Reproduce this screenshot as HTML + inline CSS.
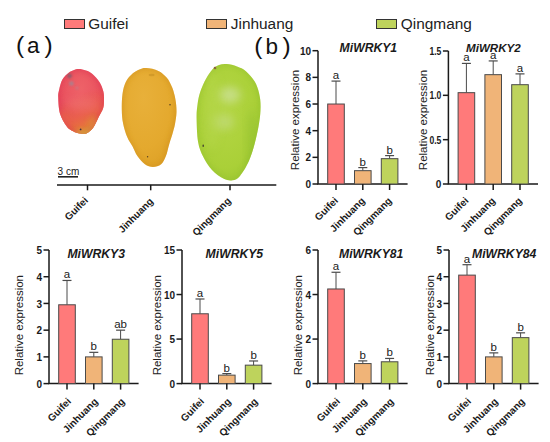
<!DOCTYPE html>
<html><head><meta charset="utf-8"><style>
html,body{margin:0;padding:0;background:#fff;}
body{width:550px;height:442px;overflow:hidden;}
svg{display:block;}
text{font-family:"Liberation Sans", sans-serif;fill:#1a1a1a;}
.tk{font-size:10px;font-weight:bold;}
.lt{font-size:11.5px;}
.xl{font-size:10px;font-weight:bold;}
.ti{font-size:12.2px;font-weight:bold;font-style:italic;}
.yl{font-size:11.5px;fill:#222;}
.lg{font-size:15.4px;fill:#222;}
.pl{font-size:24.5px;fill:#111;}
.sc{font-size:10px;fill:#222;}
.px{font-size:10px;font-weight:bold;}
</style></head><body>
<svg width="550" height="442" viewBox="0 0 550 442">

<rect x="64.5" y="19.5" width="20" height="9" fill="#FF7A7A" stroke="#333" stroke-width="1"/>
<text x="88.2" y="28.6" class="lg">Guifei</text>
<rect x="206.5" y="19.5" width="20" height="9" fill="#F0B478" stroke="#333" stroke-width="1"/>
<text x="230.8" y="28.6" class="lg">Jinhuang</text>
<rect x="376.5" y="19.5" width="20" height="9" fill="#BED35C" stroke="#333" stroke-width="1"/>
<text x="400.8" y="28.6" class="lg">Qingmang</text>
<text x="16" y="52.7" class="pl">(</text><text x="27" y="52.7" class="pl" style="font-size:22.5px">a</text><text x="44.6" y="52.7" class="pl">)</text>
<text x="254.2" y="54.2" class="pl">(</text><text x="265.5" y="54.2" class="pl" style="font-size:22.5px">b</text><text x="282.6" y="54.2" class="pl">)</text>


<defs>
 <radialGradient id="gr" cx="0.5" cy="0.3" r="0.8">
  <stop offset="0" stop-color="#EE6268"/>
  <stop offset="0.5" stop-color="#EA5460"/>
  <stop offset="0.85" stop-color="#E4485A"/>
  <stop offset="1" stop-color="#DC3E50"/>
 </radialGradient>
 <linearGradient id="gr2" x1="0.3" y1="0.0" x2="0.6" y2="1">
  <stop offset="0" stop-color="#E86040" stop-opacity="0"/>
  <stop offset="0.4" stop-color="#E86040" stop-opacity="0"/>
  <stop offset="0.7" stop-color="#EA6A40" stop-opacity="0.55"/>
  <stop offset="0.9" stop-color="#E67A36" stop-opacity="0.9"/>
  <stop offset="1" stop-color="#D8A038" stop-opacity="1"/>
 </linearGradient>
 <radialGradient id="gy" cx="0.4" cy="0.3" r="0.85">
  <stop offset="0" stop-color="#E8B03A"/>
  <stop offset="0.6" stop-color="#E4A92E"/>
  <stop offset="0.92" stop-color="#DDA026"/>
  <stop offset="1" stop-color="#D49622"/>
 </radialGradient>
 <radialGradient id="gg" cx="0.45" cy="0.4" r="0.75">
  <stop offset="0" stop-color="#B4D644"/>
  <stop offset="0.65" stop-color="#AAD038"/>
  <stop offset="1" stop-color="#98C430"/>
 </radialGradient>
 <filter id="bl" x="-50%" y="-50%" width="200%" height="200%"><feGaussianBlur stdDeviation="3"/></filter>
 <filter id="bl4" x="-50%" y="-50%" width="200%" height="200%"><feGaussianBlur stdDeviation="4"/></filter>
 <filter id="bl2" x="-50%" y="-50%" width="200%" height="200%"><feGaussianBlur stdDeviation="2"/></filter>
 <filter id="bl1" x="-50%" y="-50%" width="200%" height="200%"><feGaussianBlur stdDeviation="0.8"/></filter>
 <clipPath id="cr"><path d="M78.7 69.0 C80.8 69.0 83.7 69.7 86.0 70.5 C88.3 71.3 90.1 72.0 92.4 74.0 C94.7 76.0 97.8 79.3 99.6 82.2 C101.4 85.1 102.6 88.5 103.3 91.3 C104.0 94.1 104.0 96.2 104.0 99.0 C104.0 101.8 104.1 105.0 103.2 107.9 C102.3 110.9 100.4 113.5 98.8 116.7 C97.2 119.9 95.2 124.7 93.5 127.3 C91.8 129.9 90.1 131.1 88.5 132.2 C86.9 133.3 85.8 133.7 83.8 133.8 C81.8 133.9 79.0 133.5 76.7 132.8 C74.4 132.1 71.8 130.7 70.0 129.5 C68.2 128.3 67.8 128.2 66.1 125.5 C64.4 122.8 61.2 117.9 59.9 113.2 C58.6 108.5 58.3 101.2 58.2 97.3 C58.1 93.3 58.5 92.5 59.2 89.5 C59.9 86.5 60.8 82.3 62.4 79.5 C64.0 76.7 66.9 74.3 68.7 72.8 C70.5 71.2 71.8 70.8 73.5 70.2 C75.2 69.6 76.6 69.0 78.7 69.0 Z"/></clipPath>
 <clipPath id="cy"><path d="M146.2 68.1 C149.4 68.3 155.0 69.3 158.4 70.9 C161.8 72.5 164.3 74.9 166.6 77.6 C168.9 80.3 170.5 83.5 172.0 87.1 C173.5 90.7 174.7 95.1 175.4 99.3 C176.2 103.5 176.6 107.9 176.5 112.0 C176.4 116.1 175.6 120.7 175.0 124.0 C174.4 127.3 173.9 128.7 173.0 132.0 C172.1 135.3 170.5 139.9 169.3 143.9 C168.1 147.9 167.3 152.7 165.9 156.1 C164.5 159.5 163.2 162.5 161.1 164.3 C158.9 166.1 155.7 167.0 153.0 167.0 C150.3 167.0 147.5 166.1 144.9 164.3 C142.3 162.5 139.5 159.1 137.4 156.1 C135.3 153.1 134.3 149.8 132.6 146.6 C130.9 143.4 128.8 140.9 127.2 137.1 C125.6 133.3 124.0 128.1 123.1 123.6 C122.2 119.1 121.9 115.0 121.8 110.0 C121.7 105.0 121.8 98.6 122.5 93.9 C123.2 89.2 124.2 85.1 125.9 81.7 C127.6 78.3 130.3 75.6 132.6 73.6 C134.8 71.6 137.1 70.4 139.4 69.5 C141.7 68.6 143.0 67.9 146.2 68.1 Z"/></clipPath>
 <clipPath id="cg"><path d="M226.8 64.1 C229.8 64.3 233.8 65.3 237.0 66.5 C240.2 67.7 243.0 68.7 245.9 71.2 C248.8 73.7 252.5 77.8 254.7 81.5 C256.9 85.2 258.1 89.0 259.1 93.2 C260.1 97.4 260.6 101.5 260.6 106.5 C260.6 111.5 260.1 116.8 259.1 123.0 C258.1 129.2 256.4 137.1 254.7 143.5 C253.0 149.9 251.2 155.8 248.8 161.2 C246.4 166.6 242.7 172.7 240.0 175.9 C237.3 179.1 235.3 179.8 232.6 180.3 C229.9 180.8 227.2 180.5 223.8 178.8 C220.4 177.1 215.4 173.7 212.0 170.0 C208.6 166.3 205.5 161.5 203.2 156.8 C200.9 152.1 199.2 148.5 198.1 142.0 C197.0 135.5 196.7 124.3 196.6 118.0 C196.5 111.7 197.0 108.4 197.6 104.0 C198.2 99.6 198.9 96.0 200.3 91.8 C201.7 87.5 204.1 82.3 206.2 78.5 C208.3 74.7 210.7 71.2 212.8 69.0 C214.9 66.8 216.7 65.8 219.0 65.0 C221.3 64.2 223.8 63.8 226.8 64.1 Z"/></clipPath>
</defs>
<path d="M78.7 69.0 C80.8 69.0 83.7 69.7 86.0 70.5 C88.3 71.3 90.1 72.0 92.4 74.0 C94.7 76.0 97.8 79.3 99.6 82.2 C101.4 85.1 102.6 88.5 103.3 91.3 C104.0 94.1 104.0 96.2 104.0 99.0 C104.0 101.8 104.1 105.0 103.2 107.9 C102.3 110.9 100.4 113.5 98.8 116.7 C97.2 119.9 95.2 124.7 93.5 127.3 C91.8 129.9 90.1 131.1 88.5 132.2 C86.9 133.3 85.8 133.7 83.8 133.8 C81.8 133.9 79.0 133.5 76.7 132.8 C74.4 132.1 71.8 130.7 70.0 129.5 C68.2 128.3 67.8 128.2 66.1 125.5 C64.4 122.8 61.2 117.9 59.9 113.2 C58.6 108.5 58.3 101.2 58.2 97.3 C58.1 93.3 58.5 92.5 59.2 89.5 C59.9 86.5 60.8 82.3 62.4 79.5 C64.0 76.7 66.9 74.3 68.7 72.8 C70.5 71.2 71.8 70.8 73.5 70.2 C75.2 69.6 76.6 69.0 78.7 69.0 Z" fill="url(#gr)"/>
<path d="M78.7 69.0 C80.8 69.0 83.7 69.7 86.0 70.5 C88.3 71.3 90.1 72.0 92.4 74.0 C94.7 76.0 97.8 79.3 99.6 82.2 C101.4 85.1 102.6 88.5 103.3 91.3 C104.0 94.1 104.0 96.2 104.0 99.0 C104.0 101.8 104.1 105.0 103.2 107.9 C102.3 110.9 100.4 113.5 98.8 116.7 C97.2 119.9 95.2 124.7 93.5 127.3 C91.8 129.9 90.1 131.1 88.5 132.2 C86.9 133.3 85.8 133.7 83.8 133.8 C81.8 133.9 79.0 133.5 76.7 132.8 C74.4 132.1 71.8 130.7 70.0 129.5 C68.2 128.3 67.8 128.2 66.1 125.5 C64.4 122.8 61.2 117.9 59.9 113.2 C58.6 108.5 58.3 101.2 58.2 97.3 C58.1 93.3 58.5 92.5 59.2 89.5 C59.9 86.5 60.8 82.3 62.4 79.5 C64.0 76.7 66.9 74.3 68.7 72.8 C70.5 71.2 71.8 70.8 73.5 70.2 C75.2 69.6 76.6 69.0 78.7 69.0 Z" fill="url(#gr2)"/>
<g clip-path="url(#cr)">
 <path d="M78.7 69.0 C80.8 69.0 83.7 69.7 86.0 70.5 C88.3 71.3 90.1 72.0 92.4 74.0 C94.7 76.0 97.8 79.3 99.6 82.2 C101.4 85.1 102.6 88.5 103.3 91.3 C104.0 94.1 104.0 96.2 104.0 99.0 C104.0 101.8 104.1 105.0 103.2 107.9 C102.3 110.9 100.4 113.5 98.8 116.7 C97.2 119.9 95.2 124.7 93.5 127.3 C91.8 129.9 90.1 131.1 88.5 132.2 C86.9 133.3 85.8 133.7 83.8 133.8 C81.8 133.9 79.0 133.5 76.7 132.8 C74.4 132.1 71.8 130.7 70.0 129.5 C68.2 128.3 67.8 128.2 66.1 125.5 C64.4 122.8 61.2 117.9 59.9 113.2 C58.6 108.5 58.3 101.2 58.2 97.3 C58.1 93.3 58.5 92.5 59.2 89.5 C59.9 86.5 60.8 82.3 62.4 79.5 C64.0 76.7 66.9 74.3 68.7 72.8 C70.5 71.2 71.8 70.8 73.5 70.2 C75.2 69.6 76.6 69.0 78.7 69.0 Z" fill="none" stroke="#E03A55" stroke-width="5" filter="url(#bl2)" opacity="0.55"/>
 <ellipse cx="82" cy="104" rx="16" ry="6" fill="#F27A78" filter="url(#bl4)" opacity="0.45"/>
 <circle cx="69.6" cy="76" r="2.2" fill="#7A6070" filter="url(#bl1)" opacity="0.85"/>
 <circle cx="71.5" cy="83.5" r="2.2" fill="#9A8A98" filter="url(#bl1)" opacity="0.8"/>
 <circle cx="77" cy="88" r="1.5" fill="#A88A98" filter="url(#bl1)" opacity="0.6"/>
 <ellipse cx="93" cy="124" rx="5" ry="6" fill="#D89A38" filter="url(#bl)" opacity="0.6"/>
 <ellipse cx="84" cy="134" rx="10" ry="4" fill="#D0A838" filter="url(#bl)" opacity="0.85"/>
 <ellipse cx="64" cy="118" rx="5" ry="8" fill="#E86A48" filter="url(#bl)" opacity="0.5"/>
 <circle cx="80.6" cy="129.4" r="0.9" fill="#403040"/>
</g>
<path d="M146.2 68.1 C149.4 68.3 155.0 69.3 158.4 70.9 C161.8 72.5 164.3 74.9 166.6 77.6 C168.9 80.3 170.5 83.5 172.0 87.1 C173.5 90.7 174.7 95.1 175.4 99.3 C176.2 103.5 176.6 107.9 176.5 112.0 C176.4 116.1 175.6 120.7 175.0 124.0 C174.4 127.3 173.9 128.7 173.0 132.0 C172.1 135.3 170.5 139.9 169.3 143.9 C168.1 147.9 167.3 152.7 165.9 156.1 C164.5 159.5 163.2 162.5 161.1 164.3 C158.9 166.1 155.7 167.0 153.0 167.0 C150.3 167.0 147.5 166.1 144.9 164.3 C142.3 162.5 139.5 159.1 137.4 156.1 C135.3 153.1 134.3 149.8 132.6 146.6 C130.9 143.4 128.8 140.9 127.2 137.1 C125.6 133.3 124.0 128.1 123.1 123.6 C122.2 119.1 121.9 115.0 121.8 110.0 C121.7 105.0 121.8 98.6 122.5 93.9 C123.2 89.2 124.2 85.1 125.9 81.7 C127.6 78.3 130.3 75.6 132.6 73.6 C134.8 71.6 137.1 70.4 139.4 69.5 C141.7 68.6 143.0 67.9 146.2 68.1 Z" fill="url(#gy)"/>
<g clip-path="url(#cy)"><path d="M146.2 68.1 C149.4 68.3 155.0 69.3 158.4 70.9 C161.8 72.5 164.3 74.9 166.6 77.6 C168.9 80.3 170.5 83.5 172.0 87.1 C173.5 90.7 174.7 95.1 175.4 99.3 C176.2 103.5 176.6 107.9 176.5 112.0 C176.4 116.1 175.6 120.7 175.0 124.0 C174.4 127.3 173.9 128.7 173.0 132.0 C172.1 135.3 170.5 139.9 169.3 143.9 C168.1 147.9 167.3 152.7 165.9 156.1 C164.5 159.5 163.2 162.5 161.1 164.3 C158.9 166.1 155.7 167.0 153.0 167.0 C150.3 167.0 147.5 166.1 144.9 164.3 C142.3 162.5 139.5 159.1 137.4 156.1 C135.3 153.1 134.3 149.8 132.6 146.6 C130.9 143.4 128.8 140.9 127.2 137.1 C125.6 133.3 124.0 128.1 123.1 123.6 C122.2 119.1 121.9 115.0 121.8 110.0 C121.7 105.0 121.8 98.6 122.5 93.9 C123.2 89.2 124.2 85.1 125.9 81.7 C127.6 78.3 130.3 75.6 132.6 73.6 C134.8 71.6 137.1 70.4 139.4 69.5 C141.7 68.6 143.0 67.9 146.2 68.1 Z" fill="none" stroke="#D0901C" stroke-width="4" filter="url(#bl2)" opacity="0.5"/></g>
<circle cx="170" cy="104.8" r="0.8" fill="#5A4020"/>
<circle cx="147.6" cy="156.8" r="0.7" fill="#5A4020"/>
<ellipse cx="151.6" cy="75" rx="3" ry="1.2" fill="#C08A20" opacity="0.5"/>
<path d="M226.8 64.1 C229.8 64.3 233.8 65.3 237.0 66.5 C240.2 67.7 243.0 68.7 245.9 71.2 C248.8 73.7 252.5 77.8 254.7 81.5 C256.9 85.2 258.1 89.0 259.1 93.2 C260.1 97.4 260.6 101.5 260.6 106.5 C260.6 111.5 260.1 116.8 259.1 123.0 C258.1 129.2 256.4 137.1 254.7 143.5 C253.0 149.9 251.2 155.8 248.8 161.2 C246.4 166.6 242.7 172.7 240.0 175.9 C237.3 179.1 235.3 179.8 232.6 180.3 C229.9 180.8 227.2 180.5 223.8 178.8 C220.4 177.1 215.4 173.7 212.0 170.0 C208.6 166.3 205.5 161.5 203.2 156.8 C200.9 152.1 199.2 148.5 198.1 142.0 C197.0 135.5 196.7 124.3 196.6 118.0 C196.5 111.7 197.0 108.4 197.6 104.0 C198.2 99.6 198.9 96.0 200.3 91.8 C201.7 87.5 204.1 82.3 206.2 78.5 C208.3 74.7 210.7 71.2 212.8 69.0 C214.9 66.8 216.7 65.8 219.0 65.0 C221.3 64.2 223.8 63.8 226.8 64.1 Z" fill="url(#gg)"/>
<g clip-path="url(#cg)">
 <path d="M226.8 64.1 C229.8 64.3 233.8 65.3 237.0 66.5 C240.2 67.7 243.0 68.7 245.9 71.2 C248.8 73.7 252.5 77.8 254.7 81.5 C256.9 85.2 258.1 89.0 259.1 93.2 C260.1 97.4 260.6 101.5 260.6 106.5 C260.6 111.5 260.1 116.8 259.1 123.0 C258.1 129.2 256.4 137.1 254.7 143.5 C253.0 149.9 251.2 155.8 248.8 161.2 C246.4 166.6 242.7 172.7 240.0 175.9 C237.3 179.1 235.3 179.8 232.6 180.3 C229.9 180.8 227.2 180.5 223.8 178.8 C220.4 177.1 215.4 173.7 212.0 170.0 C208.6 166.3 205.5 161.5 203.2 156.8 C200.9 152.1 199.2 148.5 198.1 142.0 C197.0 135.5 196.7 124.3 196.6 118.0 C196.5 111.7 197.0 108.4 197.6 104.0 C198.2 99.6 198.9 96.0 200.3 91.8 C201.7 87.5 204.1 82.3 206.2 78.5 C208.3 74.7 210.7 71.2 212.8 69.0 C214.9 66.8 216.7 65.8 219.0 65.0 C221.3 64.2 223.8 63.8 226.8 64.1 Z" fill="none" stroke="#90BE2E" stroke-width="4" filter="url(#bl2)" opacity="0.4"/>
 <ellipse cx="229.5" cy="95" rx="11" ry="8" fill="#CFE2A0" filter="url(#bl4)" opacity="0.7"/>
 <ellipse cx="223" cy="122" rx="11" ry="8" fill="#C8DE90" filter="url(#bl4)" opacity="0.55"/>
 <ellipse cx="252" cy="140" rx="5" ry="30" fill="#8EBE2E" filter="url(#bl4)" opacity="0.5"/>
 <ellipse cx="212" cy="110" rx="8" ry="40" fill="#B8D850" filter="url(#bl4)" opacity="0.45"/>
</g>
<circle cx="215" cy="68" r="1.3" fill="#8A6A3A"/>
<ellipse cx="203.2" cy="145.7" rx="0.8" ry="1.2" fill="#4A4A30"/>
<text x="57.6" y="174.6" class="sc">3 cm</text>
<line x1="58" y1="176.8" x2="78" y2="176.8" stroke="#222" stroke-width="1.6"/>
<path d="M57 184.9 H276.3" stroke="#1a1a1a" stroke-width="1.5"/>
<line x1="87.5" y1="184.9" x2="87.5" y2="190.3" stroke="#1a1a1a" stroke-width="1.5"/>
<line x1="150.7" y1="184.9" x2="150.7" y2="190.3" stroke="#1a1a1a" stroke-width="1.5"/>
<line x1="230" y1="184.9" x2="230" y2="190.3" stroke="#1a1a1a" stroke-width="1.5"/>
<text transform="translate(88.7,201) rotate(-45)" text-anchor="end" class="px">Guifei</text>
<text transform="translate(153.9,202) rotate(-45)" text-anchor="end" class="px">Jinhuang</text>
<text transform="translate(231.5,201.5) rotate(-45)" text-anchor="end" class="px">Qingmang</text>

<path d="M318 50.7 V184 H407.6" fill="none" stroke="#1a1a1a" stroke-width="1.5"/>
<line x1="312.5" y1="184.00" x2="318" y2="184.00" stroke="#1a1a1a" stroke-width="1.5"/>
<text x="311" y="188.10" text-anchor="end" class="tk">0</text>
<line x1="312.5" y1="157.34" x2="318" y2="157.34" stroke="#1a1a1a" stroke-width="1.5"/>
<text x="311" y="161.44" text-anchor="end" class="tk">2</text>
<line x1="312.5" y1="130.68" x2="318" y2="130.68" stroke="#1a1a1a" stroke-width="1.5"/>
<text x="311" y="134.78" text-anchor="end" class="tk">4</text>
<line x1="312.5" y1="104.02" x2="318" y2="104.02" stroke="#1a1a1a" stroke-width="1.5"/>
<text x="311" y="108.12" text-anchor="end" class="tk">6</text>
<line x1="312.5" y1="77.36" x2="318" y2="77.36" stroke="#1a1a1a" stroke-width="1.5"/>
<text x="311" y="81.46" text-anchor="end" class="tk">8</text>
<line x1="312.5" y1="50.70" x2="318" y2="50.70" stroke="#1a1a1a" stroke-width="1.5"/>
<text x="311" y="54.80" text-anchor="end" class="tk">10</text>
<line x1="336.00" y1="81.09" x2="336.00" y2="104.02" stroke="#4a4a4a" stroke-width="1"/>
<line x1="331.50" y1="81.09" x2="340.50" y2="81.09" stroke="#4a4a4a" stroke-width="1.2"/>
<rect x="327.70" y="104.02" width="16.6" height="79.98" fill="#FF7A7A" stroke="#4a4a4a" stroke-width="1"/>
<line x1="336.00" y1="184" x2="336.00" y2="190" stroke="#1a1a1a" stroke-width="1.5"/>
<text x="336.00" y="79.09" text-anchor="middle" class="lt">a</text>
<text transform="translate(338.70,201.30) rotate(-45)" text-anchor="end" class="xl">Guifei</text>
<line x1="362.80" y1="167.60" x2="362.80" y2="170.67" stroke="#4a4a4a" stroke-width="1"/>
<line x1="358.30" y1="167.60" x2="367.30" y2="167.60" stroke="#4a4a4a" stroke-width="1.2"/>
<rect x="354.50" y="170.67" width="16.6" height="13.33" fill="#F0B478" stroke="#4a4a4a" stroke-width="1"/>
<line x1="362.80" y1="184" x2="362.80" y2="190" stroke="#1a1a1a" stroke-width="1.5"/>
<text x="362.80" y="165.60" text-anchor="middle" class="lt">b</text>
<text transform="translate(365.50,201.30) rotate(-45)" text-anchor="end" class="xl">Jinhuang</text>
<line x1="389.60" y1="155.61" x2="389.60" y2="158.67" stroke="#4a4a4a" stroke-width="1"/>
<line x1="385.10" y1="155.61" x2="394.10" y2="155.61" stroke="#4a4a4a" stroke-width="1.2"/>
<rect x="381.30" y="158.67" width="16.6" height="25.33" fill="#BED35C" stroke="#4a4a4a" stroke-width="1"/>
<line x1="389.60" y1="184" x2="389.60" y2="190" stroke="#1a1a1a" stroke-width="1.5"/>
<text x="389.60" y="153.61" text-anchor="middle" class="lt">b</text>
<text transform="translate(392.30,201.30) rotate(-45)" text-anchor="end" class="xl">Qingmang</text>
<text x="339.6" y="52.4" class="ti">MiWRKY1</text>
<text transform="translate(299.2,120) rotate(-90)" text-anchor="middle" class="yl">Relative expression</text>
<path d="M448.4 51 V184 H538.0" fill="none" stroke="#1a1a1a" stroke-width="1.5"/>
<line x1="442.9" y1="184.00" x2="448.4" y2="184.00" stroke="#1a1a1a" stroke-width="1.5"/>
<text x="441.4" y="188.10" text-anchor="end" class="tk">0</text>
<line x1="442.9" y1="139.67" x2="448.4" y2="139.67" stroke="#1a1a1a" stroke-width="1.5"/>
<text transform="translate(441.40,143.77) scale(0.86,1)" text-anchor="end" class="tk">0.5</text>
<line x1="442.9" y1="95.33" x2="448.4" y2="95.33" stroke="#1a1a1a" stroke-width="1.5"/>
<text transform="translate(441.40,99.43) scale(0.86,1)" text-anchor="end" class="tk">1.0</text>
<line x1="442.9" y1="51.00" x2="448.4" y2="51.00" stroke="#1a1a1a" stroke-width="1.5"/>
<text transform="translate(441.40,55.10) scale(0.86,1)" text-anchor="end" class="tk">1.5</text>
<line x1="466.40" y1="63.41" x2="466.40" y2="92.67" stroke="#4a4a4a" stroke-width="1"/>
<line x1="461.90" y1="63.41" x2="470.90" y2="63.41" stroke="#4a4a4a" stroke-width="1.2"/>
<rect x="458.10" y="92.67" width="16.6" height="91.33" fill="#FF7A7A" stroke="#4a4a4a" stroke-width="1"/>
<line x1="466.40" y1="184" x2="466.40" y2="190" stroke="#1a1a1a" stroke-width="1.5"/>
<text x="466.40" y="61.41" text-anchor="middle" class="lt">a</text>
<text transform="translate(469.10,201.30) rotate(-45)" text-anchor="end" class="xl">Guifei</text>
<line x1="493.20" y1="60.93" x2="493.20" y2="74.67" stroke="#4a4a4a" stroke-width="1"/>
<line x1="488.70" y1="60.93" x2="497.70" y2="60.93" stroke="#4a4a4a" stroke-width="1.2"/>
<rect x="484.90" y="74.67" width="16.6" height="109.33" fill="#F0B478" stroke="#4a4a4a" stroke-width="1"/>
<line x1="493.20" y1="184" x2="493.20" y2="190" stroke="#1a1a1a" stroke-width="1.5"/>
<text x="493.20" y="58.93" text-anchor="middle" class="lt">a</text>
<text transform="translate(495.90,201.30) rotate(-45)" text-anchor="end" class="xl">Jinhuang</text>
<line x1="520.00" y1="73.88" x2="520.00" y2="84.69" stroke="#4a4a4a" stroke-width="1"/>
<line x1="515.50" y1="73.88" x2="524.50" y2="73.88" stroke="#4a4a4a" stroke-width="1.2"/>
<rect x="511.70" y="84.69" width="16.6" height="99.31" fill="#BED35C" stroke="#4a4a4a" stroke-width="1"/>
<line x1="520.00" y1="184" x2="520.00" y2="190" stroke="#1a1a1a" stroke-width="1.5"/>
<text x="520.00" y="71.88" text-anchor="middle" class="lt">a</text>
<text transform="translate(522.70,201.30) rotate(-45)" text-anchor="end" class="xl">Qingmang</text>
<text x="466" y="52.4" class="ti" style="font-size:11.6px">MiWRKY2</text>
<text transform="translate(426.8,120) rotate(-90)" text-anchor="middle" class="yl">Relative expression</text>
<path d="M49 250 V383.6 H138.6" fill="none" stroke="#1a1a1a" stroke-width="1.5"/>
<line x1="43.5" y1="383.60" x2="49" y2="383.60" stroke="#1a1a1a" stroke-width="1.5"/>
<text x="42" y="387.70" text-anchor="end" class="tk">0</text>
<line x1="43.5" y1="356.88" x2="49" y2="356.88" stroke="#1a1a1a" stroke-width="1.5"/>
<text x="42" y="360.98" text-anchor="end" class="tk">1</text>
<line x1="43.5" y1="330.16" x2="49" y2="330.16" stroke="#1a1a1a" stroke-width="1.5"/>
<text x="42" y="334.26" text-anchor="end" class="tk">2</text>
<line x1="43.5" y1="303.44" x2="49" y2="303.44" stroke="#1a1a1a" stroke-width="1.5"/>
<text x="42" y="307.54" text-anchor="end" class="tk">3</text>
<line x1="43.5" y1="276.72" x2="49" y2="276.72" stroke="#1a1a1a" stroke-width="1.5"/>
<text x="42" y="280.82" text-anchor="end" class="tk">4</text>
<line x1="43.5" y1="250.00" x2="49" y2="250.00" stroke="#1a1a1a" stroke-width="1.5"/>
<text x="42" y="254.10" text-anchor="end" class="tk">5</text>
<line x1="67.00" y1="280.46" x2="67.00" y2="304.78" stroke="#4a4a4a" stroke-width="1"/>
<line x1="62.50" y1="280.46" x2="71.50" y2="280.46" stroke="#4a4a4a" stroke-width="1.2"/>
<rect x="58.70" y="304.78" width="16.6" height="78.82" fill="#FF7A7A" stroke="#4a4a4a" stroke-width="1"/>
<line x1="67.00" y1="383.6" x2="67.00" y2="389.6" stroke="#1a1a1a" stroke-width="1.5"/>
<text x="67.00" y="278.46" text-anchor="middle" class="lt">a</text>
<text transform="translate(71.70,402.10) rotate(-45)" text-anchor="end" class="xl">Guifei</text>
<line x1="93.80" y1="352.34" x2="93.80" y2="356.88" stroke="#4a4a4a" stroke-width="1"/>
<line x1="89.30" y1="352.34" x2="98.30" y2="352.34" stroke="#4a4a4a" stroke-width="1.2"/>
<rect x="85.50" y="356.88" width="16.6" height="26.72" fill="#F0B478" stroke="#4a4a4a" stroke-width="1"/>
<line x1="93.80" y1="383.6" x2="93.80" y2="389.6" stroke="#1a1a1a" stroke-width="1.5"/>
<text x="93.80" y="350.34" text-anchor="middle" class="lt">b</text>
<text transform="translate(98.50,402.10) rotate(-45)" text-anchor="end" class="xl">Jinhuang</text>
<line x1="120.60" y1="330.16" x2="120.60" y2="339.24" stroke="#4a4a4a" stroke-width="1"/>
<line x1="116.10" y1="330.16" x2="125.10" y2="330.16" stroke="#4a4a4a" stroke-width="1.2"/>
<rect x="112.30" y="339.24" width="16.6" height="44.36" fill="#BED35C" stroke="#4a4a4a" stroke-width="1"/>
<line x1="120.60" y1="383.6" x2="120.60" y2="389.6" stroke="#1a1a1a" stroke-width="1.5"/>
<text x="120.60" y="328.16" text-anchor="middle" class="lt">ab</text>
<text transform="translate(125.30,402.10) rotate(-45)" text-anchor="end" class="xl">Qingmang</text>
<text x="67.4" y="258" class="ti">MiWRKY3</text>
<text transform="translate(23.2,325.2) rotate(-90)" text-anchor="middle" class="yl">Relative expression</text>
<path d="M182 250 V383.6 H271.6" fill="none" stroke="#1a1a1a" stroke-width="1.5"/>
<line x1="176.5" y1="383.60" x2="182" y2="383.60" stroke="#1a1a1a" stroke-width="1.5"/>
<text x="175" y="387.70" text-anchor="end" class="tk">0</text>
<line x1="176.5" y1="339.07" x2="182" y2="339.07" stroke="#1a1a1a" stroke-width="1.5"/>
<text x="175" y="343.17" text-anchor="end" class="tk">5</text>
<line x1="176.5" y1="294.53" x2="182" y2="294.53" stroke="#1a1a1a" stroke-width="1.5"/>
<text x="175" y="298.63" text-anchor="end" class="tk">10</text>
<line x1="176.5" y1="250.00" x2="182" y2="250.00" stroke="#1a1a1a" stroke-width="1.5"/>
<text x="175" y="254.10" text-anchor="end" class="tk">15</text>
<line x1="200.00" y1="298.99" x2="200.00" y2="313.77" stroke="#4a4a4a" stroke-width="1"/>
<line x1="195.50" y1="298.99" x2="204.50" y2="298.99" stroke="#4a4a4a" stroke-width="1.2"/>
<rect x="191.70" y="313.77" width="16.6" height="69.83" fill="#FF7A7A" stroke="#4a4a4a" stroke-width="1"/>
<line x1="200.00" y1="383.6" x2="200.00" y2="389.6" stroke="#1a1a1a" stroke-width="1.5"/>
<text x="200.00" y="296.99" text-anchor="middle" class="lt">a</text>
<text transform="translate(204.70,402.10) rotate(-45)" text-anchor="end" class="xl">Guifei</text>
<line x1="226.80" y1="373.62" x2="226.80" y2="375.14" stroke="#4a4a4a" stroke-width="1"/>
<line x1="222.30" y1="373.62" x2="231.30" y2="373.62" stroke="#4a4a4a" stroke-width="1.2"/>
<rect x="218.50" y="375.14" width="16.6" height="8.46" fill="#F0B478" stroke="#4a4a4a" stroke-width="1"/>
<line x1="226.80" y1="383.6" x2="226.80" y2="389.6" stroke="#1a1a1a" stroke-width="1.5"/>
<text x="226.80" y="371.62" text-anchor="middle" class="lt">b</text>
<text transform="translate(231.50,402.10) rotate(-45)" text-anchor="end" class="xl">Jinhuang</text>
<line x1="253.60" y1="360.98" x2="253.60" y2="365.16" stroke="#4a4a4a" stroke-width="1"/>
<line x1="249.10" y1="360.98" x2="258.10" y2="360.98" stroke="#4a4a4a" stroke-width="1.2"/>
<rect x="245.30" y="365.16" width="16.6" height="18.44" fill="#BED35C" stroke="#4a4a4a" stroke-width="1"/>
<line x1="253.60" y1="383.6" x2="253.60" y2="389.6" stroke="#1a1a1a" stroke-width="1.5"/>
<text x="253.60" y="358.98" text-anchor="middle" class="lt">b</text>
<text transform="translate(258.30,402.10) rotate(-45)" text-anchor="end" class="xl">Qingmang</text>
<text x="205.6" y="258" class="ti">MiWRKY5</text>
<text transform="translate(160.6,325.2) rotate(-90)" text-anchor="middle" class="yl">Relative expression</text>
<path d="M318 250 V383.6 H407.6" fill="none" stroke="#1a1a1a" stroke-width="1.5"/>
<line x1="312.5" y1="383.60" x2="318" y2="383.60" stroke="#1a1a1a" stroke-width="1.5"/>
<text x="311" y="387.70" text-anchor="end" class="tk">0</text>
<line x1="312.5" y1="339.07" x2="318" y2="339.07" stroke="#1a1a1a" stroke-width="1.5"/>
<text x="311" y="343.17" text-anchor="end" class="tk">2</text>
<line x1="312.5" y1="294.53" x2="318" y2="294.53" stroke="#1a1a1a" stroke-width="1.5"/>
<text x="311" y="298.63" text-anchor="end" class="tk">4</text>
<line x1="312.5" y1="250.00" x2="318" y2="250.00" stroke="#1a1a1a" stroke-width="1.5"/>
<text x="311" y="254.10" text-anchor="end" class="tk">6</text>
<line x1="336.00" y1="272.27" x2="336.00" y2="288.97" stroke="#4a4a4a" stroke-width="1"/>
<line x1="331.50" y1="272.27" x2="340.50" y2="272.27" stroke="#4a4a4a" stroke-width="1.2"/>
<rect x="327.70" y="288.97" width="16.6" height="94.63" fill="#FF7A7A" stroke="#4a4a4a" stroke-width="1"/>
<line x1="336.00" y1="383.6" x2="336.00" y2="389.6" stroke="#1a1a1a" stroke-width="1.5"/>
<text x="336.00" y="270.27" text-anchor="middle" class="lt">a</text>
<text transform="translate(340.70,402.10) rotate(-45)" text-anchor="end" class="xl">Guifei</text>
<line x1="362.80" y1="360.89" x2="362.80" y2="363.56" stroke="#4a4a4a" stroke-width="1"/>
<line x1="358.30" y1="360.89" x2="367.30" y2="360.89" stroke="#4a4a4a" stroke-width="1.2"/>
<rect x="354.50" y="363.56" width="16.6" height="20.04" fill="#F0B478" stroke="#4a4a4a" stroke-width="1"/>
<line x1="362.80" y1="383.6" x2="362.80" y2="389.6" stroke="#1a1a1a" stroke-width="1.5"/>
<text x="362.80" y="358.89" text-anchor="middle" class="lt">b</text>
<text transform="translate(367.50,402.10) rotate(-45)" text-anchor="end" class="xl">Jinhuang</text>
<line x1="389.60" y1="358.44" x2="389.60" y2="361.78" stroke="#4a4a4a" stroke-width="1"/>
<line x1="385.10" y1="358.44" x2="394.10" y2="358.44" stroke="#4a4a4a" stroke-width="1.2"/>
<rect x="381.30" y="361.78" width="16.6" height="21.82" fill="#BED35C" stroke="#4a4a4a" stroke-width="1"/>
<line x1="389.60" y1="383.6" x2="389.60" y2="389.6" stroke="#1a1a1a" stroke-width="1.5"/>
<text x="389.60" y="356.44" text-anchor="middle" class="lt">b</text>
<text transform="translate(394.30,402.10) rotate(-45)" text-anchor="end" class="xl">Qingmang</text>
<text x="339" y="258" class="ti">MiWRKY81</text>
<text transform="translate(301.5,325.2) rotate(-90)" text-anchor="middle" class="yl">Relative expression</text>
<path d="M449 250 V383.6 H538.6" fill="none" stroke="#1a1a1a" stroke-width="1.5"/>
<line x1="443.5" y1="383.60" x2="449" y2="383.60" stroke="#1a1a1a" stroke-width="1.5"/>
<text x="442" y="387.70" text-anchor="end" class="tk">0</text>
<line x1="443.5" y1="356.88" x2="449" y2="356.88" stroke="#1a1a1a" stroke-width="1.5"/>
<text x="442" y="360.98" text-anchor="end" class="tk">1</text>
<line x1="443.5" y1="330.16" x2="449" y2="330.16" stroke="#1a1a1a" stroke-width="1.5"/>
<text x="442" y="334.26" text-anchor="end" class="tk">2</text>
<line x1="443.5" y1="303.44" x2="449" y2="303.44" stroke="#1a1a1a" stroke-width="1.5"/>
<text x="442" y="307.54" text-anchor="end" class="tk">3</text>
<line x1="443.5" y1="276.72" x2="449" y2="276.72" stroke="#1a1a1a" stroke-width="1.5"/>
<text x="442" y="280.82" text-anchor="end" class="tk">4</text>
<line x1="443.5" y1="250.00" x2="449" y2="250.00" stroke="#1a1a1a" stroke-width="1.5"/>
<text x="442" y="254.10" text-anchor="end" class="tk">5</text>
<line x1="467.00" y1="264.70" x2="467.00" y2="275.12" stroke="#4a4a4a" stroke-width="1"/>
<line x1="462.50" y1="264.70" x2="471.50" y2="264.70" stroke="#4a4a4a" stroke-width="1.2"/>
<rect x="458.70" y="275.12" width="16.6" height="108.48" fill="#FF7A7A" stroke="#4a4a4a" stroke-width="1"/>
<line x1="467.00" y1="383.6" x2="467.00" y2="389.6" stroke="#1a1a1a" stroke-width="1.5"/>
<text x="467.00" y="262.70" text-anchor="middle" class="lt">a</text>
<text transform="translate(471.70,402.10) rotate(-45)" text-anchor="end" class="xl">Guifei</text>
<line x1="493.80" y1="352.87" x2="493.80" y2="356.88" stroke="#4a4a4a" stroke-width="1"/>
<line x1="489.30" y1="352.87" x2="498.30" y2="352.87" stroke="#4a4a4a" stroke-width="1.2"/>
<rect x="485.50" y="356.88" width="16.6" height="26.72" fill="#F0B478" stroke="#4a4a4a" stroke-width="1"/>
<line x1="493.80" y1="383.6" x2="493.80" y2="389.6" stroke="#1a1a1a" stroke-width="1.5"/>
<text x="493.80" y="350.87" text-anchor="middle" class="lt">b</text>
<text transform="translate(498.50,402.10) rotate(-45)" text-anchor="end" class="xl">Jinhuang</text>
<line x1="520.60" y1="332.83" x2="520.60" y2="337.64" stroke="#4a4a4a" stroke-width="1"/>
<line x1="516.10" y1="332.83" x2="525.10" y2="332.83" stroke="#4a4a4a" stroke-width="1.2"/>
<rect x="512.30" y="337.64" width="16.6" height="45.96" fill="#BED35C" stroke="#4a4a4a" stroke-width="1"/>
<line x1="520.60" y1="383.6" x2="520.60" y2="389.6" stroke="#1a1a1a" stroke-width="1.5"/>
<text x="520.60" y="330.83" text-anchor="middle" class="lt">b</text>
<text transform="translate(525.30,402.10) rotate(-45)" text-anchor="end" class="xl">Qingmang</text>
<text x="472" y="258" class="ti">MiWRKY84</text>
<text transform="translate(434.3,325.2) rotate(-90)" text-anchor="middle" class="yl">Relative expression</text>
</svg>
</body></html>
